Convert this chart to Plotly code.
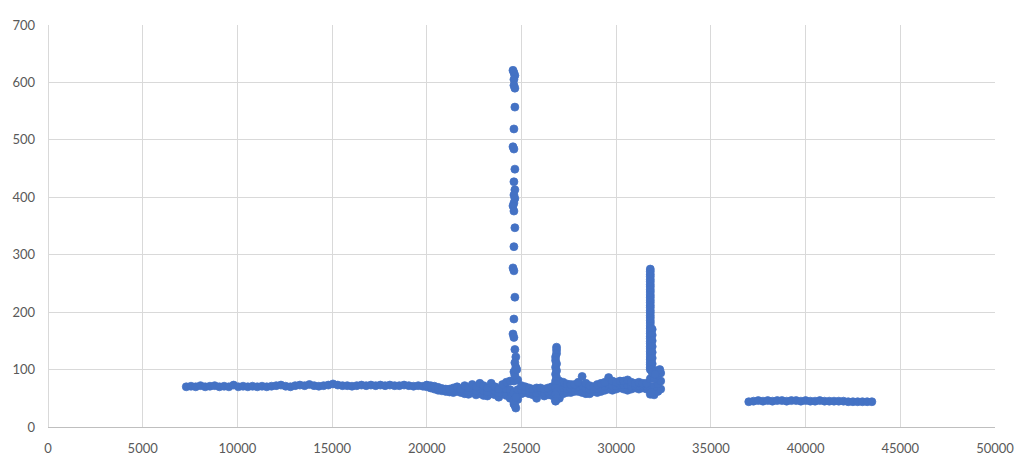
import plotly.graph_objects as go

# ---- Segment A: steady band (x, y) ----
xa = [7300, 7550, 7800, 8050, 8300, 8550, 8800, 9050, 9300, 9550,
      9800, 10050, 10300, 10550, 10800, 11050, 11300, 11550, 11800, 12050,
      12300, 12550, 12800, 13050, 13300, 13550, 13800, 14050, 14300, 14550,
      14800, 15050, 15300, 15550, 15800, 16050, 16300, 16550, 16800, 17050,
      17300, 17550, 17800, 18050, 18300, 18550, 18800, 19050, 19300, 19550,
      19800]
ya = [70, 71, 70, 72, 70, 71, 72, 70, 71, 70,
      73, 70, 71, 70, 71, 70, 71, 70, 71, 72,
      73, 71, 70, 72, 73, 72, 74, 72, 71, 72,
      73, 75, 73, 72, 72, 71, 72, 73, 72, 73,
      72, 73, 72, 73, 72, 72, 73, 72, 71, 72,
      71]

# ---- Segment B: noisy band, three readings per x ----
xb = [20000, 20200, 20400, 20600, 20800, 21000, 21200, 21400, 21600, 21800,
      22000, 22200, 22400, 22600, 22800, 23000, 23200, 23400, 23600, 23800,
      24000, 24200, 24400, 24600, 24800, 25000, 25200, 25400, 25600, 25800,
      26000, 26200, 26400, 26600, 26800, 27000, 27200, 27400, 27600, 27800,
      28000, 28200, 28400, 28600, 28800, 29000, 29200, 29400, 29600, 29800,
      30000, 30200, 30400, 30600, 30800, 31000, 31200, 31400, 31600, 31800,
      32000, 32200, 32350]
yb_lo = [70, 68, 66, 64, 63, 62, 61, 60, 62, 60,
         58, 57, 60, 56, 58, 55, 54, 58, 56, 52,
         58, 55, 50, 40, 48, 58, 60, 58, 56, 50,
         60, 54, 56, 55, 46, 50, 58, 60, 60, 62,
         62, 60, 58, 58, 62, 60, 62, 64, 66, 64,
         66, 68, 66, 64, 66, 68, 66, 68, 66, 57,
         56, 62, 66]
yb_mid = [72, 70, 68, 66, 65, 64, 64, 64, 66, 63,
          65, 62, 67, 63, 67, 63, 61, 67, 63, 59,
          66, 66, 65, 60, 65, 65, 65, 63, 61, 59,
          64, 60, 62, 62, 60, 62, 68, 67, 67, 68,
          70, 72, 67, 65, 66, 67, 69, 71, 74, 72,
          72, 74, 73, 73, 72, 72, 72, 72, 71, 70,
          70, 75, 80]
yb_hi = [73, 72, 71, 69, 67, 66, 66, 68, 70, 66,
         72, 68, 74, 70, 76, 72, 68, 76, 70, 66,
         74, 78, 80, 80, 82, 72, 70, 68, 66, 68,
         68, 66, 68, 70, 75, 80, 78, 75, 74, 74,
         78, 88, 76, 72, 70, 74, 76, 78, 86, 80,
         78, 80, 80, 82, 78, 76, 78, 76, 76, 84,
         84, 90, 94]

# ---- Spikes and extra readings ----
spike1_x = [24550, 24600, 24650, 24600, 24600, 24650, 24650, 24600, 24550, 24600,
            24650, 24600, 24650, 24600, 24650, 24600, 24550, 24600, 24650, 24600,
            24550, 24600, 24650, 24600, 24550, 24600, 24650, 24700, 24650, 24700,
            24600, 24650, 24700, 24650, 24600, 24700, 24750]
spike1_y = [621, 617, 612, 605, 595, 590, 557, 519, 488, 484,
            449, 427, 413, 404, 398, 390, 385, 376, 347, 314,
            277, 272, 226, 188, 162, 156, 135, 122, 112, 104,
            96, 90, 33, 38, 46, 52, 100]
spike2_x = [26850, 26850, 26850, 26800, 26800, 26850, 26800, 26850, 26800, 26850,
            26800, 26850, 26800, 26850, 26800, 26850, 26800]
spike2_y = [139, 134, 128, 122, 116, 110, 104, 98, 92, 86,
            80, 74, 68, 62, 56, 50, 45]
spike3_x = [31800, 31800, 31800, 31800, 31800, 31800, 31800, 31800, 31800, 31800,
            31800, 31800, 31800, 31800, 31800, 31800, 31800, 31800, 31800, 31800,
            31800, 31800, 31800, 31800, 31800, 31800, 31800, 31800, 31800, 31800,
            31800, 31800, 31800, 31800, 31800, 31800, 31800, 31800, 31800, 31800,
            31900, 31900, 31900, 31900, 31900, 31900, 31900, 31900,
            31900, 32100, 32300, 31850, 32050]
spike3_y = [275, 271, 266, 262, 257, 253, 248, 244, 239, 235,
            230, 226, 221, 217, 212, 208, 203, 199, 194, 190,
            185, 181, 176, 172, 167, 163, 158, 154, 149, 145,
            140, 136, 131, 127, 122, 118, 113, 109, 104, 100,
            170, 160, 150, 140, 130, 120, 110, 100,
            95, 98, 100, 60, 92]

# ---- Segment C: late low band ----
xc = [37000, 37250, 37500, 37750, 38000, 38250, 38500, 38750, 39000, 39250,
      39500, 39750, 40000, 40250, 40500, 40750, 41000, 41250, 41500, 41750,
      42000, 42250, 42500, 42750, 43000, 43250, 43500]
yc = [44, 45, 46, 45, 46, 45, 46, 46, 45, 46,
      46, 45, 46, 45, 45, 46, 45, 45, 45, 45,
      45, 44, 44, 44, 44, 44, 44]

x_tick_vals = [0, 5000, 10000, 15000, 20000, 25000, 30000, 35000, 40000, 45000, 50000]
y_tick_vals = [0, 100, 200, 300, 400, 500, 600, 700]

all_x = xa + xb + xb + xb + spike1_x + spike2_x + spike3_x + xc
all_y = ya + yb_lo + yb_mid + yb_hi + spike1_y + spike2_y + spike3_y + yc

COLOR = "#4472C4"
GRID = "#D9D9D9"
TXT = "#595959"
FONT = "Lato, 'Open Sans', sans-serif"

fig = go.Figure()
fig.add_trace(go.Scatter(
    x=all_x, y=all_y, mode="markers",
    marker=dict(size=8, color=COLOR, line=dict(color=COLOR, width=0.75)),
    showlegend=False, hoverinfo="skip",
))

fig.update_layout(
    width=1016, height=457,
    margin=dict(l=40, r=29, t=17, b=38),
    paper_bgcolor="white", plot_bgcolor="white",
    font=dict(family=FONT, size=13, color=TXT),
)
fig.update_xaxes(
    range=[0, 50000], tickvals=x_tick_vals,
    ticktext=[str(v) for v in x_tick_vals],
    showgrid=True, gridcolor=GRID, gridwidth=1,
    zeroline=True, zerolinecolor=GRID, zerolinewidth=1,
    showline=False, ticks="", ticklabelstandoff=12, automargin=False,
    tickfont=dict(family=FONT, size=13, color=TXT),
)
fig.update_yaxes(
    range=[0, 700], tickvals=y_tick_vals,
    ticktext=[str(v) for v in y_tick_vals],
    showgrid=True, gridcolor=GRID, gridwidth=1,
    zeroline=True, zerolinecolor="#BFBFBF", zerolinewidth=1,
    showline=False, ticks="", ticklabelstandoff=12, automargin=False,
    tickfont=dict(family=FONT, size=13, color=TXT),
)

fig.write_html("out.html")
